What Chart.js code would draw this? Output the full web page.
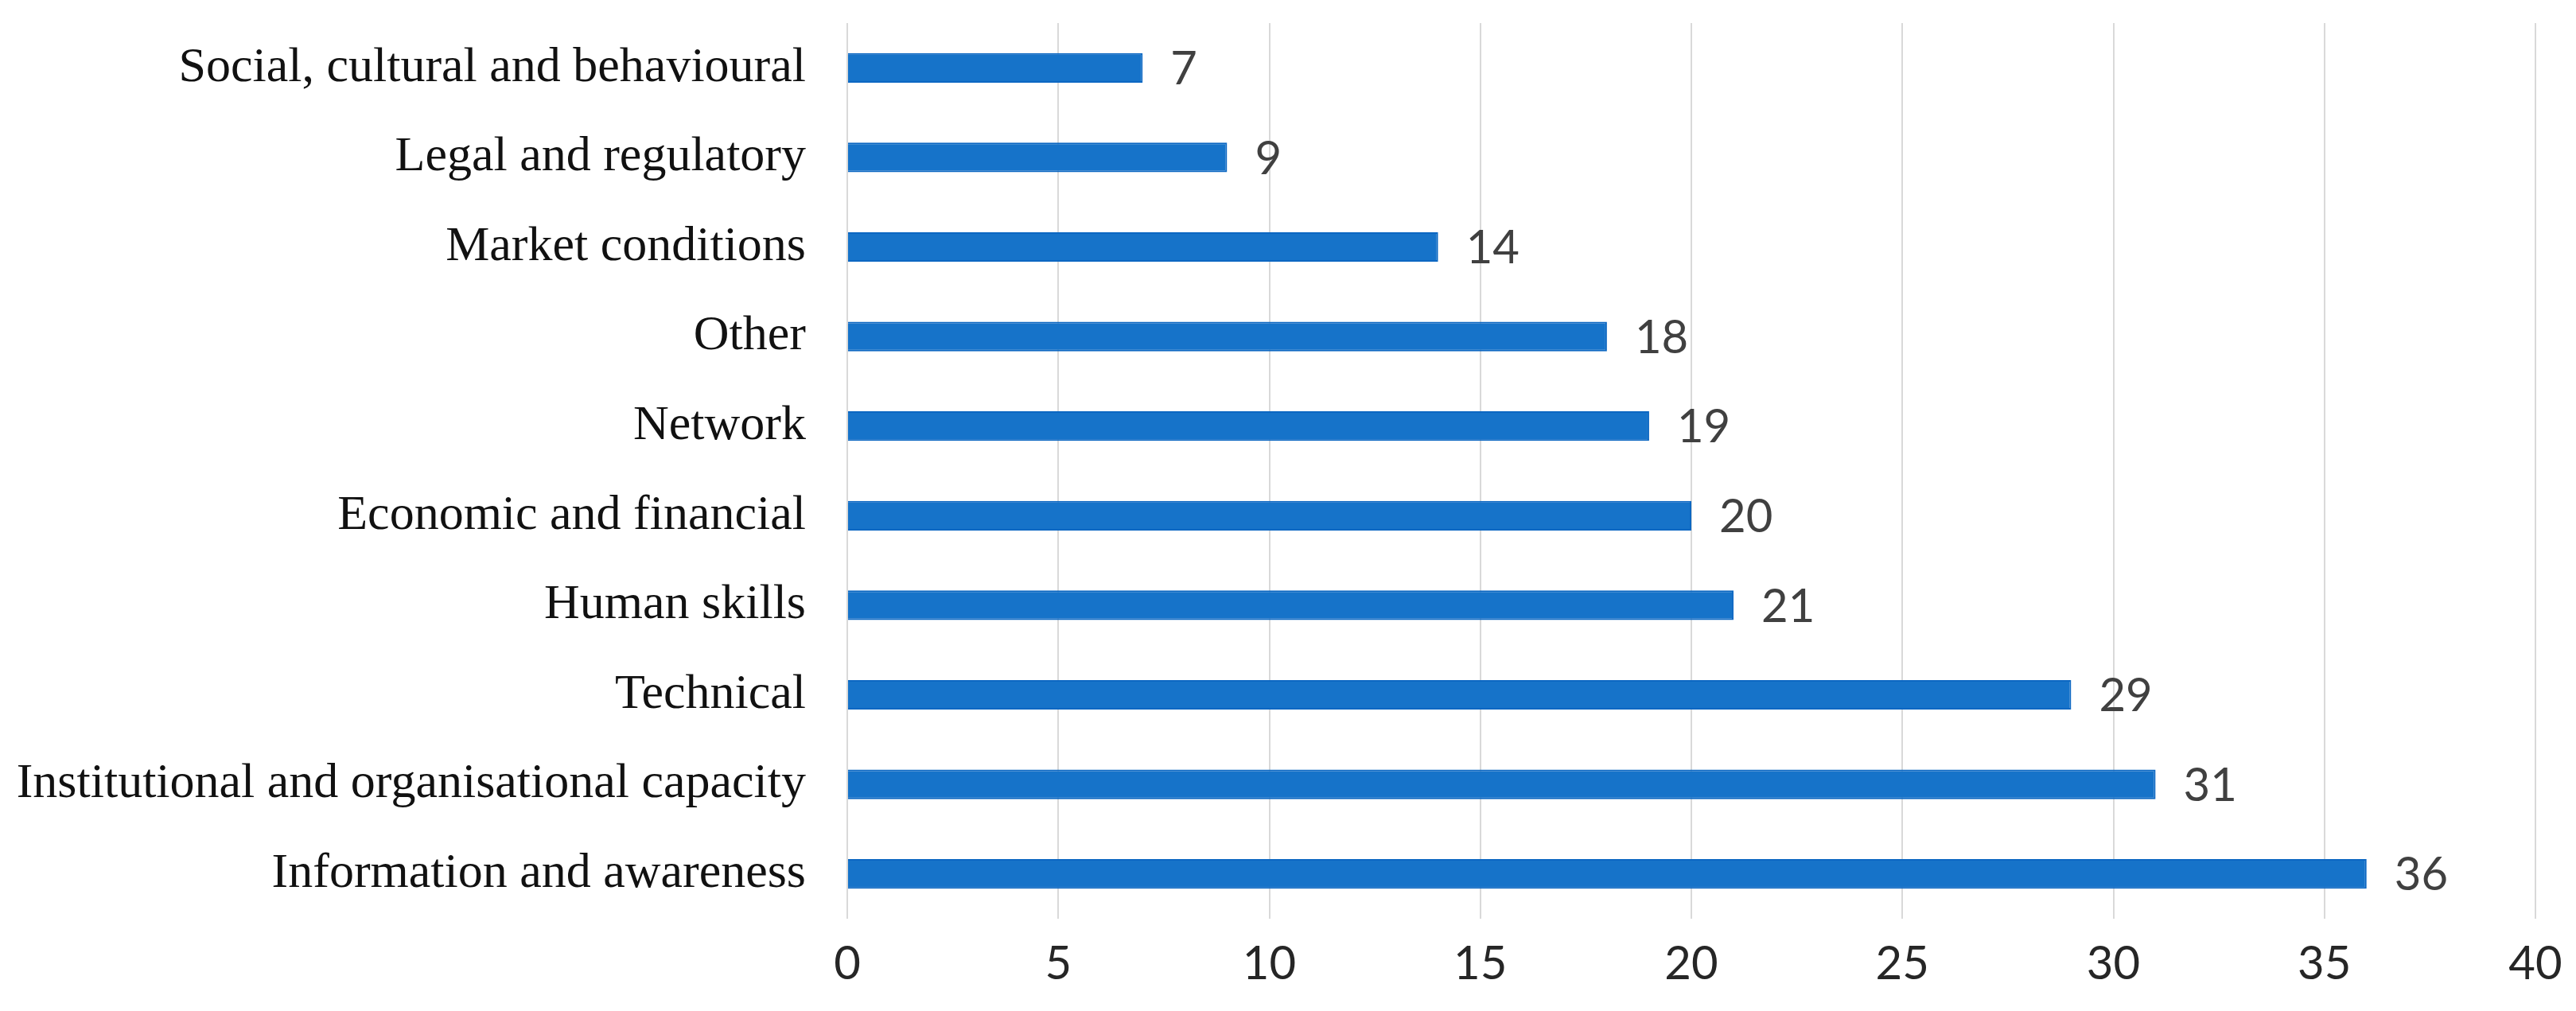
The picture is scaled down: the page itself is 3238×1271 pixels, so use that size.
<!DOCTYPE html>
<html>
<head>
<meta charset="utf-8">
<script src="https://cdn.jsdelivr.net/npm/chart.js@4.4.1/dist/chart.umd.min.js"></script>
<style>
  html, body { margin: 0; padding: 0; background: #fff; }
  #wrap { width: 3238px; height: 1271px; }
</style>
</head>
<body>
<div id="wrap"><canvas id="chart"></canvas></div>
<script>
var categories = [
    "Social, cultural and behavioural",
    "Legal and regulatory",
    "Market conditions",
    "Other",
    "Network",
    "Economic and financial",
    "Human skills",
    "Technical",
    "Institutional and organisational capacity",
    "Information and awareness"
];
var counts = [7, 9, 14, 18, 19, 20, 21, 29, 31, 36];
var xTicks = [0, 5, 10, 15, 20, 25, 30, 35, 40];

// draws the number to the right of each bar
var valueLabels = {
    id: 'valueLabels',
    afterDatasetsDraw: function(chart) {
        var ctx = chart.ctx;
        var meta = chart.getDatasetMeta(0);
        ctx.save();
        ctx.font = '58px Lato';
        ctx.fillStyle = '#404040';
        ctx.textAlign = 'left';
        ctx.textBaseline = 'middle';
        meta.data.forEach(function(bar, i) {
            ctx.fillText(String(counts[i]), bar.x + 35, bar.y + 2);
        });
        ctx.restore();
    }
};

var ctx = document.getElementById("chart");

var myChart = new Chart(ctx, {
    type: 'bar',
    data: {
        labels: categories,
        datasets: [{
            data: counts,
            backgroundColor: '#1673c9',
            borderColor: '#0c67c2',
            borderWidth: 2,
            barPercentage: 0.33,
            categoryPercentage: 1
        }]
    },
    options: {
        indexAxis: 'y',
        responsive: true,
        maintainAspectRatio: false,
        animation: false,
        devicePixelRatio: 1,
        layout: {
            padding: { left: 0, right: 51, top: 29, bottom: 10 }
        },
        plugins: {
            legend: { display: false },
            tooltip: { enabled: false }
        },
        scales: {
            x: {
                min: 0,
                max: 40,
                afterBuildTicks: function(scale) {
                    scale.ticks = xTicks.map(function(v) { return { value: v }; });
                },
                afterFit: function(scale) {
                    scale.height = 106;
                    scale.paddingLeft = 0;
                    scale.paddingRight = 0;
                },
                grid: { color: '#d9d9d9', lineWidth: 2, drawTicks: false },
                border: { display: false },
                ticks: {
                    padding: 22,
                    color: '#262626',
                    font: { family: 'Lato', size: 58 }
                }
            },
            y: {
                afterFit: function(scale) {
                    scale.width = 1065;
                    scale.paddingTop = 0;
                    scale.paddingBottom = 0;
                },
                grid: { display: false, drawTicks: false },
                border: { display: false },
                ticks: {
                    padding: 52,
                    color: '#111',
                    font: { family: 'Liberation Serif', size: 62 }
                }
            }
        }
    },
    plugins: [valueLabels]
});
</script>
</body>
</html>
